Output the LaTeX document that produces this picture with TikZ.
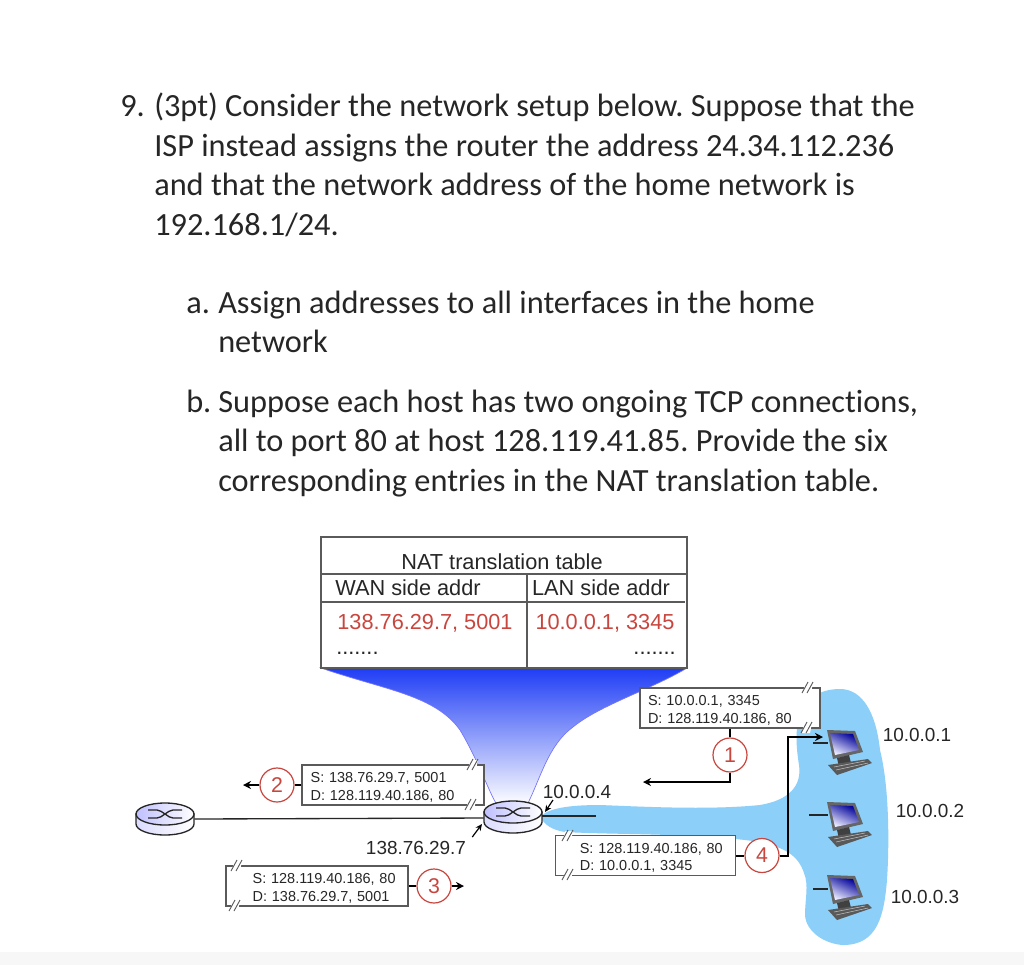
\documentclass[tikz,border=0pt]{standalone}
\usepackage{fontspec}
\setmainfont[RawFeature={-liga;-clig;-dlig}]{Carlito}
\newfontfamily\arialfont{Liberation Sans}
\usetikzlibrary{arrows.meta,calc}
\definecolor{ink}{HTML}{262626}
\definecolor{boxline}{HTML}{5A5A5A}
\definecolor{natred}{HTML}{C8463E}
\definecolor{lanblue}{HTML}{8CCFF9}
\definecolor{funnelblue}{HTML}{1F3DF5}
\tikzset{
  x=0.75pt,y=-0.75pt,
  body/.style={anchor=base west,inner sep=0pt,text=ink,align=left,font=\frenchspacing\fontsize{24.25}{29.6}\selectfont},
  tabletext/.style={anchor=center,inner sep=0pt,text=ink,font=\arialfont\fontsize{16.3}{19}\selectfont},
  redtext/.style={tabletext,text=natred},
  iplabel/.style={anchor=center,inner sep=0pt,text=ink,font=\arialfont\fontsize{14.2}{17}\selectfont},
  pktbox/.style={draw=boxline,fill=white,line width=0.9pt,inner xsep=4pt,inner ysep=0pt,align=left,text=ink,anchor=center,
     minimum height=30pt,font=\arialfont\fontsize{10.85}{13}\selectfont},
  stepcircle/.style={circle,draw=natred,fill=white,line width=0.9pt,text=natred,minimum size=25.5pt,inner sep=0pt,font=\arialfont\fontsize{16}{18}\selectfont},
  flow/.style={draw=black,line width=1.5pt},
  flowarrow/.style={flow,-{Stealth[length=6pt,width=6pt]}},
  link/.style={draw=ink,line width=1pt},
  hostbox/.style={inner sep=0pt,minimum width=30pt,minimum height=34pt},
  routerbox/.style={inner sep=0pt,minimum width=43.5pt,minimum height=24pt},
  router/.pic={
    \path[draw=ink,line width=1pt,left color=blue!14,right color=white] (-29,0) -- (-29,10) arc[start angle=180,end angle=0,x radius=29,y radius=11] -- (29,0) -- cycle;
    \path[draw=ink,line width=1pt,left color=blue!25,right color=white] (0,0) ellipse[x radius=29,y radius=11];
    \draw[ink,line width=1pt] (-17,-4) -- (-8,-4) .. controls (-3,-4) and (3,4) .. (8,4) -- (17,4);
    \draw[ink,line width=1pt] (-17,4) -- (-8,4) .. controls (-3,4) and (3,-4) .. (8,-4) -- (17,-4);
  },
  pc/.pic={
    \fill[black!60] (0,0) -- (28,1) -- (36,22) -- (6,29) -- cycle;
    \shade[top color=blue!60!black,bottom color=blue!8!white,shading angle=-25] (3,3) -- (26,4) -- (32,20) -- (8,25) -- cycle;
    \fill[black!75] (10,28) -- (22,25) -- (24,33) -- (12,37) -- cycle;
    \fill[black!65] (1,35) -- (41,29) -- (45,33) -- (10,45) -- cycle;
    \draw[black!25,line width=0.4pt] (7,37) -- (38,31) (9,40) -- (41,33);
  }
}
\newcommand{\brkmark}[2]{%
  \fill[white] (#1-3,#2-5) -- (#1+5,#2-5) -- (#1+3,#2+5) -- (#1-5,#2+5) -- cycle;
  \draw[boxline,line width=0.7pt] (#1-6,#2+5) -- (#1,#2-6) (#1-1,#2+5) -- (#1+5,#2-6);
}
\newcommand{\pktstrut}{\rule{0pt}{11pt}}
\begin{document}
\begin{tikzpicture}
\useasboundingbox (0,0) rectangle (1024,965);
\fill[white] (0,0) rectangle (1024,965);
\fill[black!3] (0,952) rectangle (1024,965);

% question text
\node[body] (n9) at (120,116) {9.};
\node[body,anchor=north west] (q9) at (154,93) {(3pt) Consider the network setup below. Suppose that the\\ISP instead assigns the router the address 24.34.112.236\\and that the network address of the home network is\\192.168.1/24.};
\node[body] (na) at (186,313.5) {a.};
\node[body,anchor=north west] (qa) at (218,290.5) {Assign addresses to all interfaces in the home\\network};
\node[body] (nb) at (186,412.5) {b.};
\node[body,anchor=north west] (qb) at (218,389.5) {Suppose each host has two ongoing TCP connections,\\all to port 80 at host 128.119.41.85. Provide the six\\corresponding entries in the NAT translation table.};

% blue regions
\shade[top color=funnelblue,bottom color=white,draw=blue!55,line width=0.5pt]
  (321,668) .. controls (385,690) and (435,695) .. (460,730)
  .. controls (478,760) and (488,790) .. (497,805)
  -- (527,805) .. controls (540,780) and (548,745) .. (573,727)
  .. controls (600,705) and (650,690) .. (687,668) -- cycle;
\fill[lanblue] (540,817) .. controls (548,808) and (570,805) .. (600,805)
  .. controls (650,807) and (710,810) .. (760,805)
  .. controls (790,800) and (802,785) .. (799,765)
  .. controls (795,740) and (795,720) .. (805,705)
  .. controls (815,692) and (828,689) .. (840,689)
  .. controls (862,689) and (876,712) .. (880,750)
  .. controls (890,790) and (889,850) .. (887,880)
  .. controls (884,915) and (878,945) .. (843,945)
  .. controls (825,944) and (806,932) .. (805,915)
  .. controls (805,900) and (809,885) .. (804,873)
  .. controls (798,855) and (785,848) .. (760,842)
  .. controls (700,833) and (620,835) .. (565,832)
  .. controls (552,830) and (545,825) .. (540,817) -- cycle;

% NAT table
\draw[boxline,fill=white,line width=0.9pt] (321,537) rectangle (687,668);
\draw[boxline,line width=0.9pt] (321,574) -- (687,574) (321,602) -- (685,602) (527,574) -- (527,668);
\node[tabletext] (ttitle) at (502,562) {NAT translation table};
\node[tabletext] (twan) at (408,588) {WAN side addr};
\node[tabletext] (tlan) at (601,588) {LAN side addr};
\node[redtext] (twanv) at (425,623) {138.76.29.7, 5001};
\node[redtext] (tlanv) at (605,623) {10.0.0.1, 3345};
\node[tabletext,anchor=west] (tdl) at (336,653) {.......};
\node[tabletext,anchor=east] (tdr) at (676,653) {.......};

% routers
\node[routerbox] (r1) at (165,819) {};
\node[routerbox] (r2) at (513,818) {};
\draw[link] (r1.east) -- (r2.west);
\pic at (165,814) {router};
\pic at (513,812) {router};
\coordinate (lanend) at (596,816);
\draw[link] (r2.east |- lanend) -- (lanend);

% hosts
\node[hostbox] (h1) at (848,752) {};
\node[hostbox] (h2) at (848,824) {};
\node[hostbox] (h3) at (848,897) {};
\coordinate (s1) at (813,743);
\coordinate (s2) at (809,815);
\coordinate (s3) at (813,889);
\draw[link] (s1) -- (s1 -| h1.west);
\draw[link] (s2) -- (s2 -| h2.west);
\draw[link] (s3) -- (s3 -| h3.west);
\pic at (827,730) {pc};
\pic at (827,802) {pc};
\pic at (827,875) {pc};

% packet boxes
\node[pktbox,text width=128.5pt] (p2) at (393,785) {\pktstrut\hspace*{2.5pt}S: 138.76.29.7, 5001\\\hspace*{2.5pt}D: 128.119.40.186, 80};
\node[pktbox,text width=128.5pt] (p3) at (317,886) {\pktstrut\hspace*{16pt}S: 128.119.40.186, 80\\\hspace*{16pt}D: 138.76.29.7, 5001};
\node[pktbox,text width=127pt] (p1) at (730,708) {\pktstrut\hspace*{2pt}S: 10.0.0.1, 3345\\\hspace*{2pt}D: 128.119.40.186, 80};
\node[pktbox,text width=127.5pt] (p4) at (645.5,855.5) {\pktstrut\hspace*{14.5pt}S: 128.119.40.186, 80\\\hspace*{14.5pt}D: 10.0.0.1, 3345};
\brkmark{473}{765}\brkmark{471}{805}
\brkmark{237}{866}\brkmark{235}{906}
\brkmark{808}{688}\brkmark{807}{728}
\brkmark{568}{836}\brkmark{568}{875}

% numbered steps
\node[stepcircle] (c1) at (730,755) {1};
\node[stepcircle] (c2) at (277,785) {2};
\node[stepcircle] (c3) at (434,886) {3};
\node[stepcircle] (c4) at (762,855.5) {4};
\coordinate (e1) at (643,782);
\coordinate (e2) at (243,785);
\coordinate (e3) at (464,886);
\coordinate (e4) at (823,737);
\coordinate (b4) at (788,855.5);
\draw[flow] (p1.south) -- (c1.north);
\draw[flowarrow] (c1.south) |- (e1);
\draw[flow] (p2.west) -- (c2.east);
\draw[flowarrow] (c2.west) -- (e2);
\draw[flow] (p3.east) -- (c3.west);
\draw[flowarrow] (c3.east) -- (e3);
\draw[flow] (p4.east) -- (c4.west);
\draw[flowarrow] (c4.east) -- (b4) |- (e4);

% address labels
\node[iplabel] (lw) at (416,848) {138.76.29.7};
\node[iplabel] (ll) at (577,792) {10.0.0.4};
\node[iplabel] (l1) at (917,735) {10.0.0.1};
\node[iplabel] (l2) at (930,811) {10.0.0.2};
\node[iplabel] (l3) at (925,897) {10.0.0.3};
\coordinate (pw) at (482,824);
\coordinate (pl) at (545,812);
\draw[draw=black,line width=0.9pt,-{Stealth[length=5pt,width=4.5pt]}] (lw.north east) ++(6,-4) -- (pw);
\draw[draw=black,line width=0.9pt,-{Stealth[length=5pt,width=4.5pt]}] (553,800) -- (pl);
\end{tikzpicture}
\end{document}
